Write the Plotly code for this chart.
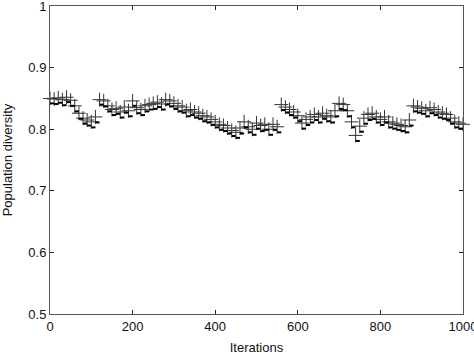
import plotly.graph_objects as go

iterations = list(range(0, 1001, 10))
diversity_plus = [
    0.850, 0.849, 0.851, 0.848, 0.852, 0.847, 0.838, 0.826, 0.818, 0.815,
    0.812, 0.820, 0.848, 0.846, 0.838, 0.832, 0.834, 0.828, 0.836, 0.830,
    0.846, 0.835, 0.832, 0.838, 0.840, 0.842, 0.844, 0.841, 0.848, 0.846,
    0.842, 0.838, 0.836, 0.830, 0.832, 0.828, 0.826, 0.822, 0.820, 0.816,
    0.812, 0.808, 0.806, 0.802, 0.798, 0.795, 0.802, 0.812, 0.804, 0.800,
    0.810, 0.806, 0.808, 0.800, 0.808, 0.804, 0.840, 0.836, 0.832, 0.828,
    0.822, 0.810, 0.816, 0.820, 0.824, 0.820, 0.826, 0.822, 0.820, 0.830,
    0.842, 0.840, 0.830, 0.812, 0.790, 0.805, 0.818, 0.824, 0.826, 0.820,
    0.816, 0.820, 0.812, 0.810, 0.808, 0.806, 0.804, 0.815, 0.838, 0.836,
    0.834, 0.830, 0.835, 0.832, 0.828, 0.826, 0.824, 0.818, 0.812, 0.810,
    0.808,
]
dot_iterations = list(range(5, 1006, 10))
diversity_dot = [
    0.842, 0.841, 0.843, 0.839, 0.844, 0.838, 0.829, 0.817, 0.809, 0.806,
    0.803, 0.811, 0.840, 0.837, 0.829, 0.823, 0.825, 0.819, 0.827, 0.821,
    0.838, 0.826, 0.823, 0.829, 0.832, 0.833, 0.836, 0.832, 0.840, 0.837,
    0.833, 0.829, 0.827, 0.821, 0.823, 0.819, 0.817, 0.813, 0.811, 0.807,
    0.803, 0.799, 0.797, 0.793, 0.789, 0.786, 0.793, 0.803, 0.795, 0.791,
    0.801, 0.797, 0.799, 0.791, 0.799, 0.795, 0.831, 0.827, 0.823, 0.819,
    0.813, 0.801, 0.807, 0.811, 0.815, 0.811, 0.817, 0.813, 0.811, 0.821,
    0.833, 0.831, 0.821, 0.803, 0.781, 0.796, 0.809, 0.815, 0.817, 0.811,
    0.807, 0.811, 0.803, 0.801, 0.799, 0.797, 0.795, 0.806, 0.829, 0.827,
    0.825, 0.821, 0.826, 0.823, 0.819, 0.817, 0.815, 0.809, 0.803, 0.801,
    0.799,
]
x_ticks = [0, 200, 400, 600, 800, 1000]
y_ticks = [0.5, 0.6, 0.7, 0.8, 0.9, 1.0]
y_tick_labels = ["0.5", "0.6", "0.7", "0.8", "0.9", "1"]

fig = go.Figure()
fig.add_trace(go.Scatter(
    x=iterations, y=diversity_plus, mode="markers",
    marker=dict(symbol="cross-thin-open", size=10, color="#333",
                line=dict(width=1, color="#333")),
    showlegend=False, cliponaxis=False,
))
fig.add_trace(go.Scatter(
    x=dot_iterations, y=diversity_dot, mode="markers",
    marker=dict(symbol="line-ew-open", size=3, color="#000",
                line=dict(width=2, color="#000")),
    showlegend=False, cliponaxis=False,
))

font = dict(family="Liberation Sans, Arial", size=13, color="#111")
axis_common = dict(
    showgrid=False, zeroline=False, showline=True, linecolor="#555", linewidth=1,
    mirror="ticks", ticks="inside", ticklen=4, tickcolor="#222",
    tickfont=font, automargin=False, ticklabeloverflow="allow",
)
fig.update_layout(
    width=474, height=355,
    margin=dict(l=50, r=11, t=6, b=41),
    paper_bgcolor="white", plot_bgcolor="white",
    xaxis=dict(range=[0, 1000.01], tickvals=x_ticks,
               title=dict(text="Iterations", standoff=12, font=font),
               **axis_common),
    yaxis=dict(range=[0.5, 1.0001], tickvals=y_ticks, ticktext=y_tick_labels,
               title=dict(text="Population diversity", standoff=14, font=font),
               **axis_common),
)
fig.write_html(
    "out.html",
    config={"displayModeBar": False},
    post_script="document.body.style.margin='0';document.body.style.overflow='hidden';",
)
